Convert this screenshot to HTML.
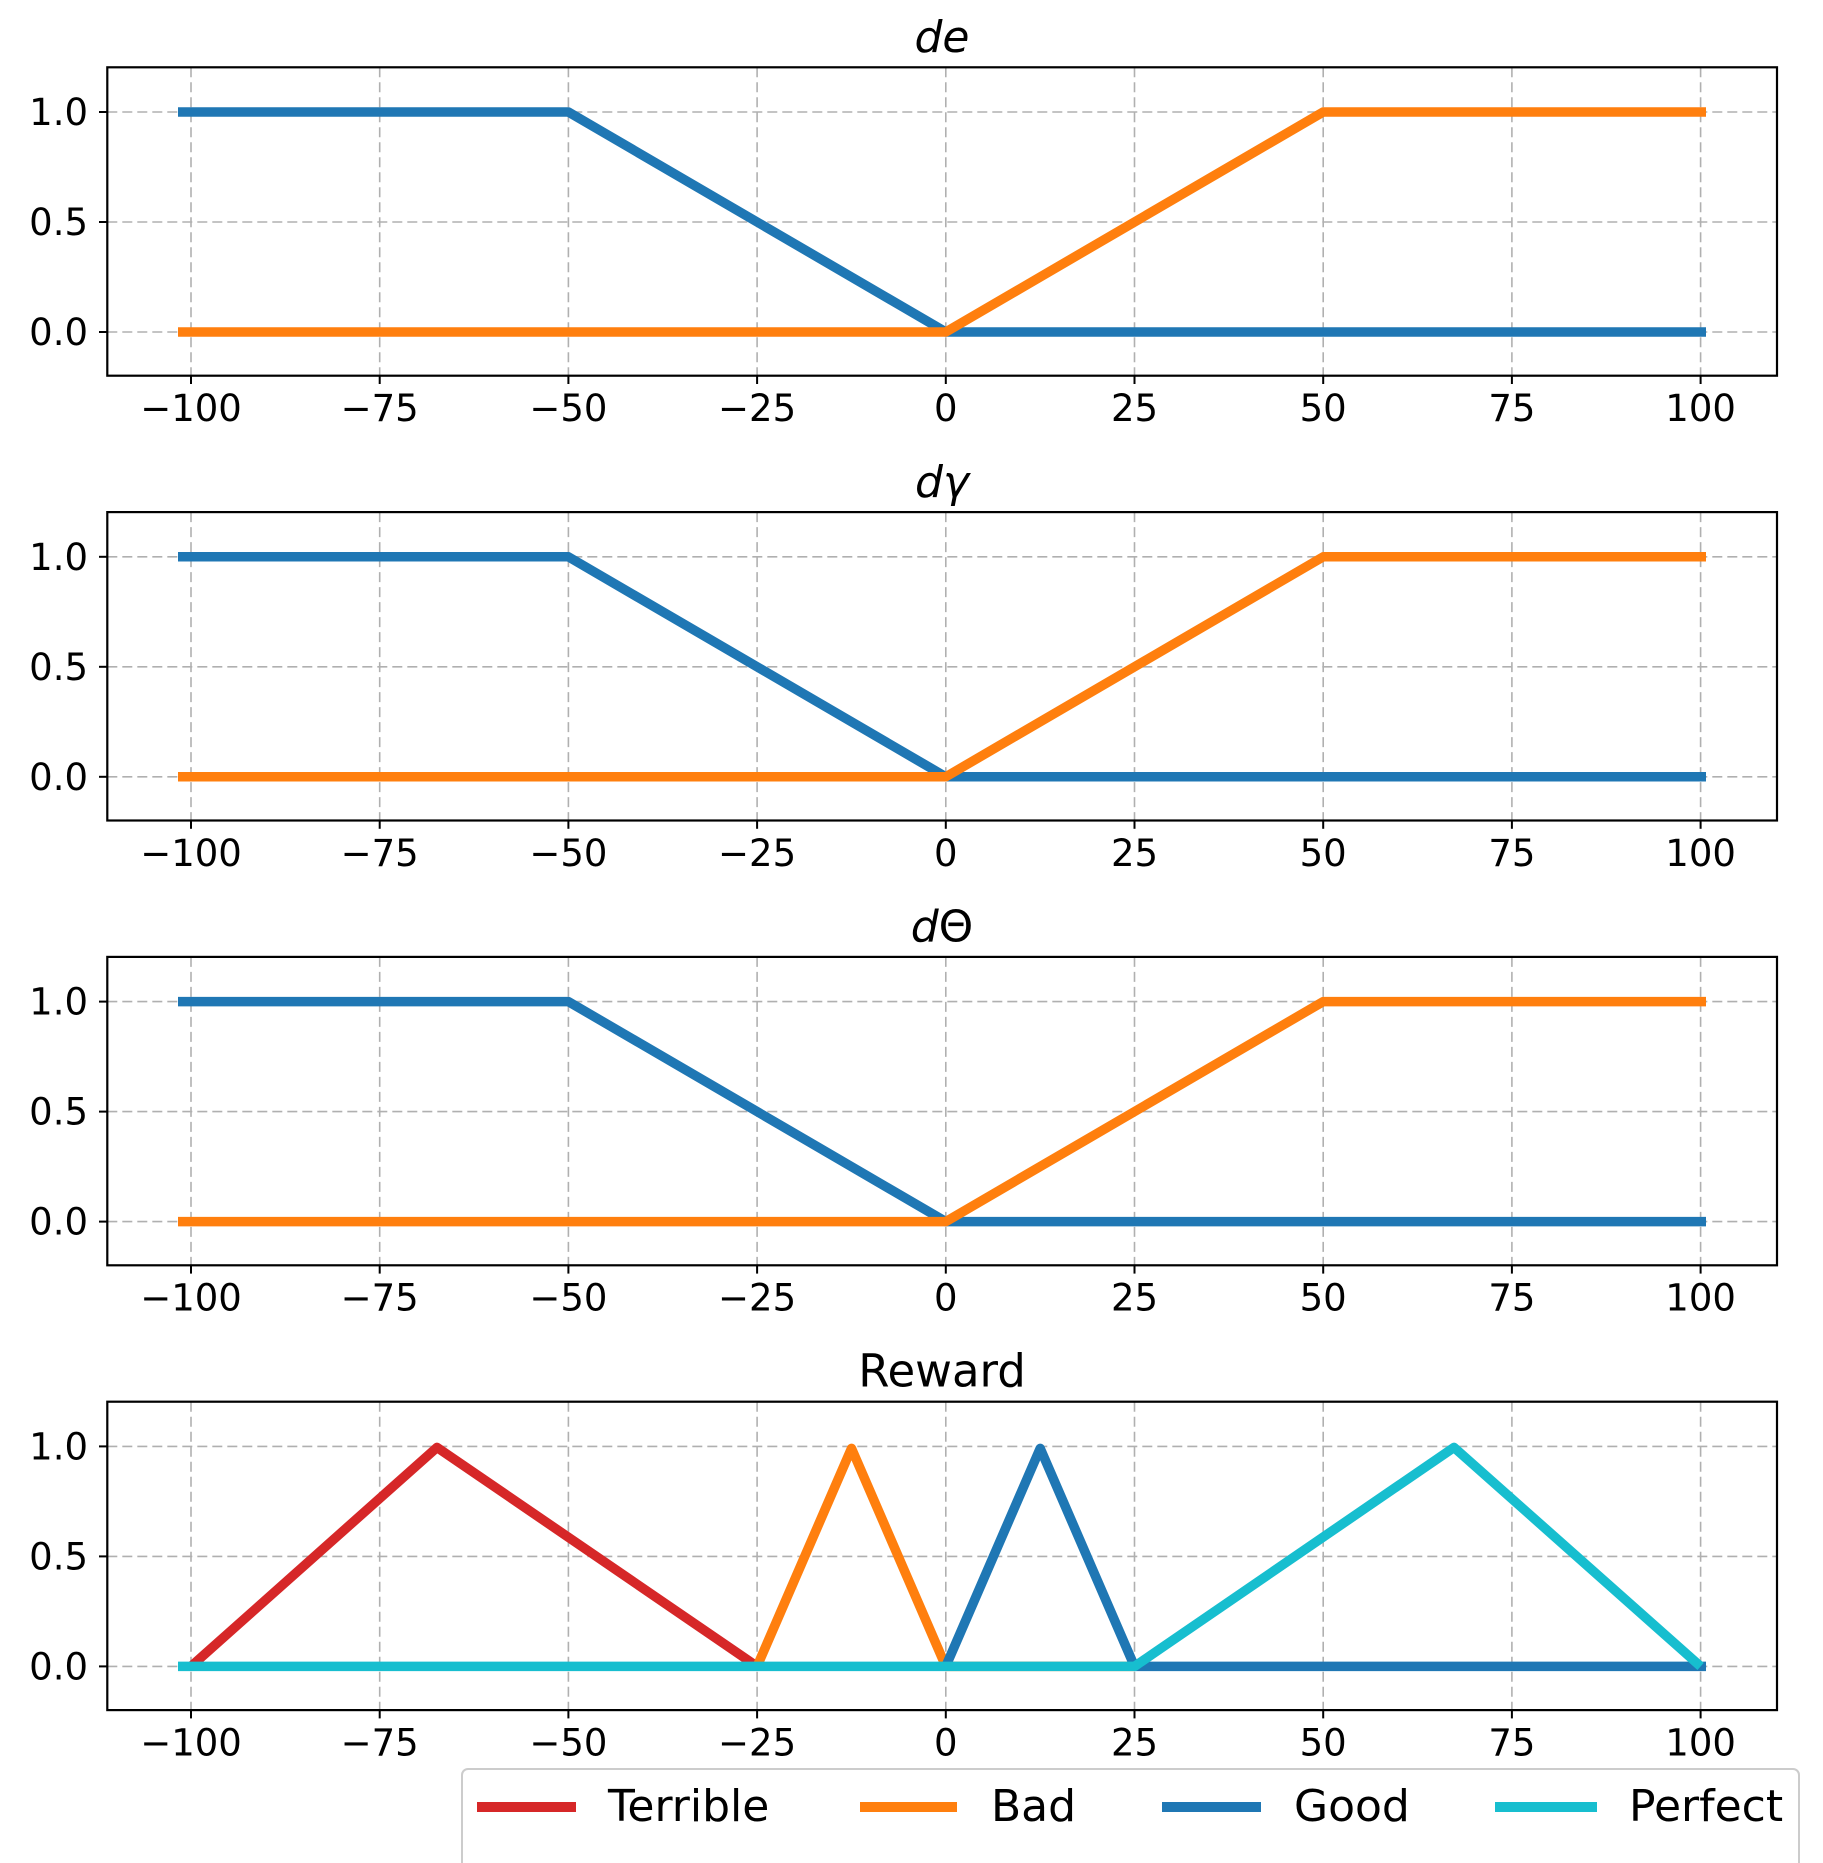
<!DOCTYPE html>
<html><head><meta charset="utf-8"><style>
html,body{margin:0;padding:0;background:#fff;}
svg{display:block;}
text{font-family:"DejaVu Sans","Liberation Sans",sans-serif;fill:#000;}
</style></head><body>
<svg width="1823" height="1863" viewBox="0 0 1823 1863" xmlns="http://www.w3.org/2000/svg">
<defs>
<g id="frame">
  <g stroke="#b0b0b0" stroke-width="1.6" stroke-dasharray="10,5" fill="none">
    <line x1="191" y1="67.3" x2="191" y2="375.7"/>
    <line x1="379.7" y1="67.3" x2="379.7" y2="375.7"/>
    <line x1="568.4" y1="67.3" x2="568.4" y2="375.7"/>
    <line x1="757.1" y1="67.3" x2="757.1" y2="375.7"/>
    <line x1="945.8" y1="67.3" x2="945.8" y2="375.7"/>
    <line x1="1134.5" y1="67.3" x2="1134.5" y2="375.7"/>
    <line x1="1323.2" y1="67.3" x2="1323.2" y2="375.7"/>
    <line x1="1511.9" y1="67.3" x2="1511.9" y2="375.7"/>
    <line x1="1700.6" y1="67.3" x2="1700.6" y2="375.7"/>
    <line x1="107.3" y1="112" x2="1777" y2="112"/>
    <line x1="107.3" y1="222" x2="1777" y2="222"/>
    <line x1="107.3" y1="332" x2="1777" y2="332"/>
  </g>
  <g stroke="#000" stroke-width="2">
    <line x1="99" y1="112" x2="107.3" y2="112"/>
    <line x1="99" y1="222" x2="107.3" y2="222"/>
    <line x1="99" y1="332" x2="107.3" y2="332"/>
    <line x1="191" y1="375.7" x2="191" y2="384"/>
    <line x1="379.7" y1="375.7" x2="379.7" y2="384"/>
    <line x1="568.4" y1="375.7" x2="568.4" y2="384"/>
    <line x1="757.1" y1="375.7" x2="757.1" y2="384"/>
    <line x1="945.8" y1="375.7" x2="945.8" y2="384"/>
    <line x1="1134.5" y1="375.7" x2="1134.5" y2="384"/>
    <line x1="1323.2" y1="375.7" x2="1323.2" y2="384"/>
    <line x1="1511.9" y1="375.7" x2="1511.9" y2="384"/>
    <line x1="1700.6" y1="375.7" x2="1700.6" y2="384"/>
  </g>
  <g font-size="37" text-anchor="end">
    <text x="88" y="125">1.0</text>
    <text x="88" y="235">0.5</text>
    <text x="88" y="345">0.0</text>
  </g>
  <g font-size="37" text-anchor="middle">
    <text x="191" y="421">−100</text>
    <text x="379.7" y="421">−75</text>
    <text x="568.4" y="421">−50</text>
    <text x="757.1" y="421">−25</text>
    <text x="945.8" y="421">0</text>
    <text x="1134.5" y="421">25</text>
    <text x="1323.2" y="421">50</text>
    <text x="1511.9" y="421">75</text>
    <text x="1700.6" y="421">100</text>
  </g>
</g>
<g id="mf">
  <polyline points="178,112 568.4,112 945.8,332 1706,332" fill="none" stroke="#1f77b4" stroke-width="9.5" stroke-linejoin="round"/>
  <polyline points="178,332 945.8,332 1323.2,112 1706,112" fill="none" stroke="#ff7f0e" stroke-width="9.5" stroke-linejoin="round"/>
</g>
</defs>

<use href="#frame"/>
<use href="#mf"/>
<rect x="107.3" y="67.3" width="1669.7" height="308.4" fill="none" stroke="#000" stroke-width="2.2"/>
<text x="942" y="52" font-size="44" font-style="italic" text-anchor="middle">de</text>

<g transform="translate(0,444.8)">
<use href="#frame"/>
<use href="#mf"/>
<rect x="107.3" y="67.3" width="1669.7" height="308.4" fill="none" stroke="#000" stroke-width="2.2"/>
<text x="942" y="52" font-size="44" font-style="italic" text-anchor="middle">dγ</text>
</g>

<g transform="translate(0,889.6)">
<use href="#frame"/>
<use href="#mf"/>
<rect x="107.3" y="67.3" width="1669.7" height="308.4" fill="none" stroke="#000" stroke-width="2.2"/>
<text x="942" y="52" font-size="44" text-anchor="middle"><tspan font-style="italic">d</tspan>Θ</text>
</g>

<g transform="translate(0,1334.4)">
<use href="#frame"/>
<g fill="none" stroke-width="9.5" stroke-linejoin="round">
  <polyline points="191,332 437,113 757.1,332" stroke="#d62728"/>
  <polyline points="757.1,332 851.5,114 945.8,332 1134.5,332" stroke="#ff7f0e"/>
  <polyline points="945.8,332 1040.2,114 1134.5,332 1706,332" stroke="#1f77b4"/>
  <polyline points="178,332 1134.5,332 1454,113 1700.6,332" stroke="#17becf"/>
</g>
<rect x="107.3" y="67.3" width="1669.7" height="308.4" fill="none" stroke="#000" stroke-width="2.2"/>
<text x="942" y="52" font-size="45" text-anchor="middle">Reward</text>
</g>

<rect x="462" y="1769" width="1337" height="120" rx="6" ry="6" fill="#fff" fill-opacity="0.8" stroke="#cccccc" stroke-width="2"/>
<g stroke-width="10">
  <line x1="477" y1="1807" x2="576" y2="1807" stroke="#d62728"/>
  <line x1="860" y1="1807" x2="957" y2="1807" stroke="#ff7f0e"/>
  <line x1="1162" y1="1807" x2="1261" y2="1807" stroke="#1f77b4"/>
  <line x1="1495" y1="1807" x2="1597" y2="1807" stroke="#17becf"/>
</g>
<g font-size="44">
  <text x="608" y="1821">Terrible</text>
  <text x="991" y="1821">Bad</text>
  <text x="1294" y="1821">Good</text>
  <text x="1629" y="1821">Perfect</text>
</g>
</svg>
</body></html>
